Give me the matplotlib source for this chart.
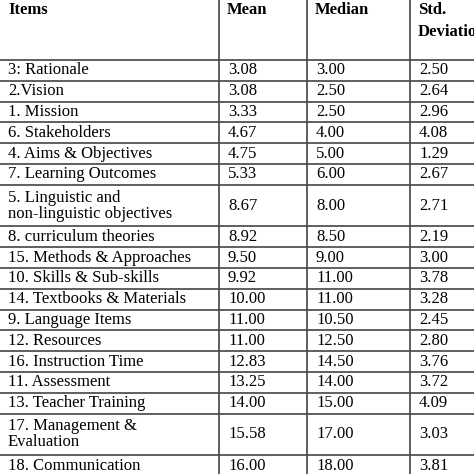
import matplotlib
matplotlib.use("Agg")
import matplotlib.pyplot as plt

headers = ["Items", "Mean", "Median", "Std.\nDeviation"]
items = ["3: Rationale", "2.Vision", "1. Mission", "6. Stakeholders", "4. Aims & Objectives",
         "7. Learning Outcomes", "5. Linguistic and\nnon-linguistic objectives", "8. curriculum theories",
         "15. Methods & Approaches", "10. Skills & Sub-skills", "14. Textbooks & Materials",
         "9. Language Items", "12. Resources", "16. Instruction Time", "11. Assessment",
         "13. Teacher Training", "17. Management &\nEvaluation", "18. Communication"]
mean = ["3.08", "3.08", "3.33", "4.67", "4.75", "5.33", "8.67", "8.92", "9.50", "9.92", "10.00",
        "11.00", "11.00", "12.83", "13.25", "14.00", "15.58", "16.00"]
median = ["3.00", "2.50", "2.50", "4.00", "5.00", "6.00", "8.00", "8.50", "9.00", "11.00", "11.00",
          "10.50", "12.50", "14.50", "14.00", "15.00", "17.00", "18.00"]
std = ["2.50", "2.64", "2.96", "4.08", "1.29", "2.67", "2.71", "2.19", "3.00", "3.78", "3.28",
       "2.45", "2.80", "3.76", "3.72", "4.09", "3.03", "3.81"]

fig = plt.figure(figsize=(4.74, 4.74), dpi=100)
ax = fig.add_axes([0, 0, 1, 1])
ax.set_xlim(0, 474)
ax.set_ylim(474, 0)
ax.axis("off")

font = "Liberation Serif"
colx = [0, 219, 307, 410, 480]
header_h = 60
row_h = 20.8
lc = "#444444"
fs = 12

for j, h in enumerate(headers):
    ax.text(colx[j] + 8, 2, h, fontfamily=font, fontsize=fs, fontweight="bold",
            va="top", ha="left", linespacing=1.5)

y = header_h
ax.plot([0, 474], [y, y], color=lc, lw=1.2)
for i, it in enumerate(items):
    h = row_h * (2 if "\n" in it else 1)
    yc = y + h / 2
    ax.text(colx[0] + 8, yc, it, fontfamily=font, fontsize=fs, va="center", ha="left", linespacing=1.0)
    for j, v in enumerate([mean[i], median[i], std[i]]):
        ax.text(colx[j + 1] + 9, yc, v, fontfamily=font, fontsize=fs, va="center", ha="left")
    y += h
    ax.plot([0, 474], [y, y], color=lc, lw=1.2)

for x in colx[1:4]:
    ax.plot([x, x], [0, 474], color=lc, lw=1.2)

fig.savefig("out.png", dpi=100)
